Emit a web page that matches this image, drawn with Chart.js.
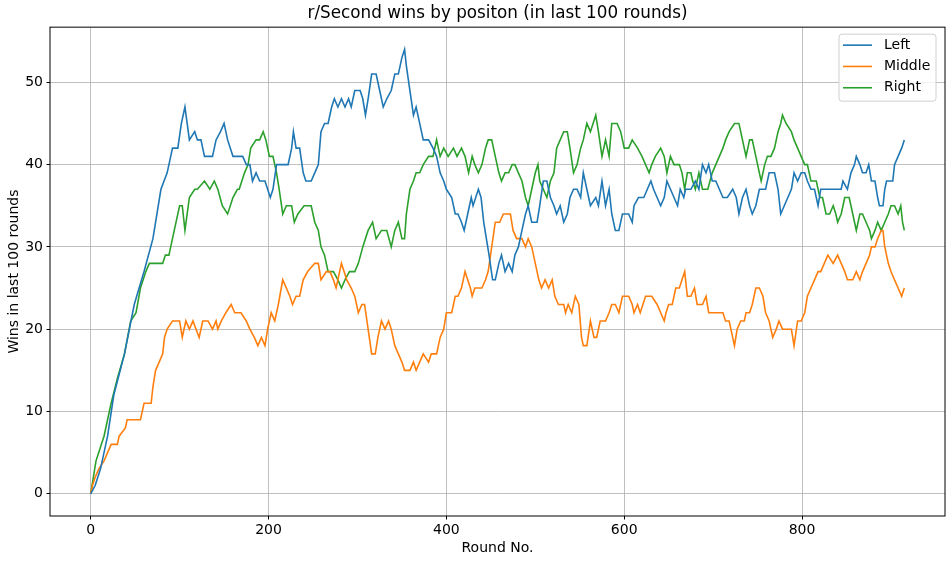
<!DOCTYPE html>
<html>
<head>
<meta charset="utf-8">
<script src="https://cdn.jsdelivr.net/npm/chart.js@4.4.1/dist/chart.umd.min.js"></script>
<style>
  html, body { margin: 0; padding: 0; background: #fff; }
  #wrap { width: 949px; height: 562px; }
</style>
</head>
<body>
<div id="wrap"><canvas id="chart"></canvas></div>
<script>
// ---- data ----
const leftRounds = [0,5,11,19,26,38,49,60,70,79,86,92,98,102,106,111,117,120,124,128,133,137,141,146,150,154,160,165,171,175,179,182,186,190,196,199,202,205,209,214,222,226,228,231,235,239,242,248,252,256,259,263,267,271,274,278,282,286,290,293,297,303,306,309,312,316,321,325,329,333,338,342,346,350,353,355,359,363,366,370,372,374,380,385,389,393,397,400,406,410,413,417,420,424,428,430,436,439,442,445,448,452,455,459,462,466,470,474,477,481,485,489,492,496,502,505,509,513,517,521,524,528,532,536,539,543,547,551,554,558,562,568,571,575,579,583,586,590,594,598,605,609,611,616,622,626,630,633,637,641,645,648,652,656,660,663,667,669,675,680,684,688,692,695,699,703,707,711,716,722,726,729,733,737,741,744,748,752,759,763,769,773,776,780,784,788,791,795,799,803,806,810,814,818,821,827,833,838,844,846,851,855,859,861,865,868,872,875,878,882,885,887,891,893,895,902,904,908,912,915];
const leftWins   = [0,1,3,7,12,17,23,27,31,37,39,42,42,45,47,43,44,43,43,41,41,41,43,44,45,43,41,41,41,40,40,38,39,38,38,37,36,37,40,40,40,42,44,42,42,39,38,38,39,40,44,45,45,47,48,47,48,47,48,47,49,49,48,46,48,51,51,49,47,48,49,51,51,53,54,52,49,46,47,45,44,43,43,42,41,39,38,37,36,34,34,33,32,34,36,35,37,36,33,31,29,26,26,28,29,27,28,27,29,30,32,34,35,33,33,35,38,38,36,35,34,35,33,34,36,37,37,36,39,37,35,36,35,38,35,37,34,32,32,34,34,33,35,36,36,37,38,37,36,35,36,38,37,36,35,37,36,37,37,38,37,40,39,40,38,38,37,36,36,37,36,34,36,37,35,34,35,37,37,39,39,37,34,35,36,37,39,38,39,39,38,37,37,35,37,37,37,37,37,38,37,39,40,41,40,39,39,40,38,38,36,35,35,37,38,38,40,41,42,43];

const middleRounds = [0,2,5,9,15,19,23,30,32,39,41,56,58,60,68,70,73,77,81,83,86,92,100,103,107,111,115,122,126,132,137,141,143,147,152,158,162,169,175,179,184,188,192,196,199,203,207,211,216,220,224,227,231,235,239,244,252,256,259,265,269,273,276,282,288,293,297,301,305,308,312,316,320,323,327,331,335,338,342,346,350,353,359,363,366,370,374,380,383,389,393,397,400,406,410,413,417,421,424,427,429,432,440,444,447,451,455,460,464,472,475,479,485,489,492,496,500,504,507,511,515,519,522,526,532,534,537,541,545,549,552,554,558,562,566,569,573,579,583,586,590,594,598,605,609,611,615,618,624,631,637,641,645,647,650,654,658,662,665,668,671,675,679,682,688,692,695,711,714,718,722,724,727,731,735,737,741,744,748,752,756,759,763,767,771,774,778,788,791,795,799,803,806,810,814,818,821,825,829,835,840,844,848,851,857,861,865,868,872,876,878,882,885,889,891,893,897,900,904,908,912,915];
const middleWins   = [0,1,2,3,4,5,6,6,7,8,9,9,10,11,11,13,15,16,17,19,20,21,21,19,21,20,21,19,21,21,20,21,20,21,22,23,22,22,21,20,19,18,19,18,20,22,21,23,26,25,24,23,24,24,26,27,28,28,26,27,27,26,25,28,26,25,24,22,23,23,20,17,17,19,21,20,21,20,18,17,16,15,15,16,15,16,17,16,17,17,19,20,22,22,24,24,25,27,26,25,24,25,25,26,27,30,33,33,34,34,32,31,31,30,31,30,28,26,25,26,25,26,24,23,23,22,23,22,24,23,19,18,18,21,19,19,21,21,22,23,23,22,24,24,23,22,23,22,24,24,23,22,21,22,23,23,25,25,26,27,24,24,25,23,23,24,22,22,21,21,19,18,20,21,21,22,22,23,25,25,24,22,21,19,20,21,20,20,18,21,21,22,24,25,26,27,27,28,29,28,29,28,27,26,26,27,26,27,28,29,30,30,31,32,32,30,28,27,26,25,24,25];

const rightRounds = [0,6,15,23,30,38,45,51,56,62,66,81,84,88,90,96,100,103,106,111,117,120,128,134,139,143,148,154,160,165,167,173,177,180,186,190,194,197,201,205,209,212,216,220,226,229,233,240,248,252,256,259,263,267,273,278,282,286,291,297,301,306,312,317,321,327,333,338,342,346,350,353,355,359,363,366,370,374,380,385,389,393,397,402,408,412,417,421,425,429,432,436,440,444,447,451,455,459,462,466,470,474,477,481,485,489,492,496,500,503,505,509,513,517,521,524,528,532,536,539,543,547,551,554,558,562,568,571,575,579,583,586,592,596,600,605,609,615,620,624,628,631,635,641,645,648,652,656,662,665,668,671,675,677,680,684,688,694,699,703,707,711,714,718,724,729,733,737,741,744,748,752,754,758,761,765,769,773,776,778,782,788,791,795,799,803,806,810,816,820,823,827,831,835,838,840,844,848,853,857,861,865,868,872,876,878,882,885,889,893,897,900,904,908,911,913,915];
const rightWins   = [0,4,7,11,14,17,21,22,25,27,28,28,29,29,30,33,35,35,32,36,37,37,38,37,38,37,35,34,36,37,37,39,40,42,43,43,44,43,41,41,39,37,34,35,35,33,34,35,35,33,32,30,29,27,27,26,25,26,27,27,28,30,32,33,31,32,32,30,32,33,31,31,34,37,38,39,39,40,41,41,43,41,42,41,42,41,42,41,39,41,40,39,40,42,43,43,41,39,38,39,39,40,40,39,38,36,35,37,39,40,38,37,36,38,39,42,43,44,44,42,39,40,42,43,45,44,46,44,41,43,41,45,45,44,42,42,43,42,41,40,39,40,41,42,41,39,41,40,40,39,37,39,39,38,37,39,37,37,39,40,41,42,43,44,45,45,43,41,43,43,41,39,38,40,41,41,42,44,45,46,45,44,43,42,41,40,40,38,38,36,36,34,34,35,34,33,34,36,36,34,32,34,34,33,32,31,32,33,32,33,34,35,35,34,35,33,32];

const xTicks = [0, 200, 400, 600, 800];
const yTicks = [0, 10, 20, 30, 40, 50];

// ---- style ----
const FONT = 'DejaVu Sans';
const GRID = '#b0b0b0';
const COLORS = { left: '#1f77b4', middle: '#ff7f0e', right: '#2ca02c' };

Chart.defaults.font.family = FONT;
Chart.defaults.color = '#000';

const toPts = (xs, ys) => xs.map((x, i) => ({ x, y: ys[i] }));

function series(label, xs, ys, color) {
  return {
    label,
    data: toPts(xs, ys),
    borderColor: color,
    backgroundColor: color,
    borderWidth: 1.6,
    pointRadius: 0,
    tension: 0,
    fill: false,
  };
}

// frame round the plot area (matplotlib spines)
const framePlugin = {
  id: 'frame',
  afterDraw(chart) {
    const { ctx, chartArea: a } = chart;
    ctx.save();
    ctx.strokeStyle = '#000';
    ctx.lineWidth = 1;
    ctx.strokeRect(a.left, a.top, a.right - a.left, a.bottom - a.top);
    ctx.restore();
  },
};

// legend box inside the plot, top right
const legendPlugin = {
  id: 'innerLegend',
  afterDraw(chart) {
    const { ctx, chartArea: a } = chart;
    const sets = chart.data.datasets;
    const w = 97, rowH = 21.3, h = 67;
    const x0 = a.right - 9 - w, y0 = a.top + 7;
    ctx.save();
    ctx.fillStyle = 'rgba(255,255,255,0.8)';
    ctx.strokeStyle = '#d0d0d0';
    ctx.lineWidth = 1;
    ctx.beginPath();
    ctx.roundRect(x0, y0, w, h, 3);
    ctx.fill();
    ctx.stroke();
    ctx.font = '14px ' + FONT;
    ctx.textBaseline = 'middle';
    ctx.textAlign = 'left';
    sets.forEach((ds, i) => {
      const cy = y0 + 11 + i * rowH;
      ctx.strokeStyle = ds.borderColor;
      ctx.lineWidth = 1.6;
      ctx.beginPath();
      ctx.moveTo(x0 + 4, cy);
      ctx.lineTo(x0 + 33, cy);
      ctx.stroke();
      ctx.fillStyle = '#000';
      ctx.fillText(ds.label, x0 + 45, cy);
    });
    ctx.restore();
  },
};

new Chart(document.getElementById('chart'), {
  type: 'line',
  data: {
    datasets: [
      series('Left', leftRounds, leftWins, COLORS.left),
      series('Middle', middleRounds, middleWins, COLORS.middle),
      series('Right', rightRounds, rightWins, COLORS.right),
    ],
  },
  options: {
    responsive: true,
    maintainAspectRatio: false,
    animation: false,
    layout: { padding: { left: 0, right: 4, top: 0, bottom: 0 } },
    plugins: {
      legend: { display: false },
      tooltip: { enabled: false },
      title: {
        display: true,
        fullSize: false,
        text: 'r/Second wins by positon (in last 100 rounds)',
        color: '#000',
        font: { size: 16.8, weight: 'normal' },
        padding: { top: 4, bottom: 3 },
      },
    },
    scales: {
      x: {
        type: 'linear',
        min: -45.75,
        max: 960.75,
        afterBuildTicks: (s) => { s.ticks = xTicks.map(v => ({ value: v })); },
        afterFit: (s) => { s.height = 46; },
        grid: { color: GRID, lineWidth: 0.8, tickLength: 3.5, tickColor: '#000', tickWidth: 1 },
        border: { display: false },
        ticks: { font: { size: 14 }, padding: 2, maxRotation: 0 },
        title: { display: true, text: 'Round No.', font: { size: 14 }, padding: { top: 0, bottom: 5.6 } },
      },
      y: {
        min: -2.7,
        max: 56.7,
        afterBuildTicks: (s) => { s.ticks = yTicks.map(v => ({ value: v })); },
        afterFit: (s) => { s.width = 50; },
        grid: { color: GRID, lineWidth: 0.8, tickLength: 3.5, tickColor: '#000', tickWidth: 1 },
        border: { display: false },
        ticks: { font: { size: 14 }, padding: 3.5 },
        title: { display: true, text: 'Wins in last 100 rounds', font: { size: 14 }, padding: { top: 5.6, bottom: 0 } },
      },
    },
  },
  plugins: [framePlugin, legendPlugin],
});
</script>
</body>
</html>
